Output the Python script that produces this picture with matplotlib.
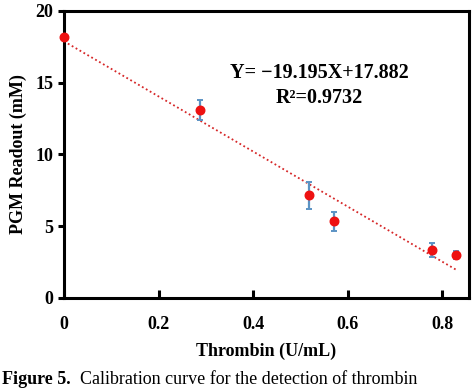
import matplotlib
matplotlib.use("Agg")
import matplotlib.pyplot as plt
import numpy as np

# data
thrombin = [0.0, 0.287, 0.519, 0.572, 0.778, 0.829]
readout = [18.2, 13.1, 7.15, 5.35, 3.33, 3.0]
errors = [0.0, 0.7, 0.95, 0.65, 0.5, 0.3]
slope = -19.195
intercept = 17.882
r_squared = 0.9732
x_ticks = [0, 0.2, 0.4, 0.6, 0.8]
x_tick_labels = ["0", "0.2", "0.4", "0.6", "0.8"]
y_ticks = [0, 5, 10, 15, 20]

plt.rcParams["font.family"] = ["Liberation Serif", "DejaVu Serif"]
plt.rcParams["font.weight"] = "bold"

fig = plt.figure(figsize=(4.74, 3.90), dpi=100)
ax = fig.add_axes([0.135, 0.236, 0.854, 0.736])

fit_x = np.array([thrombin[0], thrombin[-1]])
ax.plot(fit_x, slope * fit_x + intercept, color="#d62728", linestyle=(0, (1, 1.5)),
        linewidth=1.3, zorder=2)
ax.errorbar(thrombin, readout, yerr=errors, fmt="none", ecolor="#5b93c4",
            elinewidth=1.6, capsize=2.5, capthick=1.4, zorder=3)
ax.scatter(thrombin, readout, s=38, color="#ee1111", zorder=4, clip_on=False)

ax.set_xlim(0, 0.856)
ax.set_ylim(0, 20)
ax.set_xticks(x_ticks)
ax.set_xticklabels(x_tick_labels)
ax.set_yticks(y_ticks)

for s in ax.spines.values():
    s.set_linewidth(2.2)

ax.tick_params(axis="x", direction="in", length=6, width=2.2, pad=13, labelsize=13)
ax.tick_params(axis="y", direction="out", length=4.5, width=2.2, pad=3, labelsize=13)

ax.set_xlabel("Thrombin (U/mL)", fontsize=13, fontweight="bold", labelpad=7)
ax.set_ylabel("PGM Readout (mM)", fontsize=13, fontweight="bold", labelpad=6)

ax.text(0.54, 15.7, "Y= \u221219.195X+17.882", fontsize=14.5, fontweight="bold",
        ha="center", va="center")
ax.text(0.54, 13.95, f"R\u00b2={r_squared:.4f}",
        fontsize=14.5, fontweight="bold", ha="center", va="center")

# caption, partly visible at the bottom edge
cap1 = fig.text(0.005, 0.004, "Figure 5.", fontsize=13, fontweight="bold", va="bottom")
fig.canvas.draw()
bb = cap1.get_window_extent().transformed(fig.transFigure.inverted())
fig.text(bb.x1 + 0.02, 0.004, "Calibration curve for the detection of thrombin",
         fontsize=13, fontweight="normal", va="bottom")

fig.savefig("out.png", dpi=100)
